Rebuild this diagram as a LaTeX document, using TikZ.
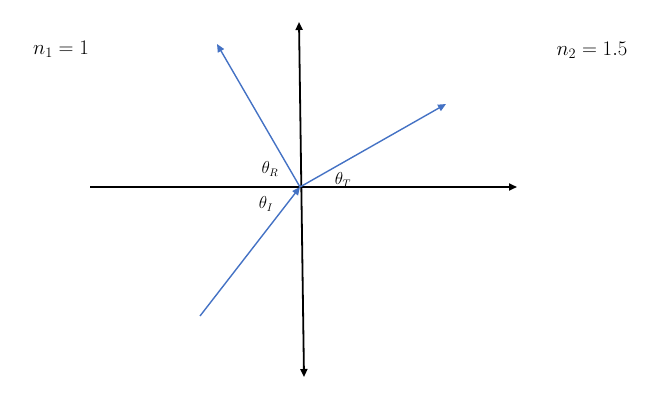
\documentclass[tikz,border=0pt]{standalone}
\usepackage{tikz}
\usetikzlibrary{arrows.meta}
\definecolor{rayblue}{RGB}{68,114,196}

\begin{document}
\begin{tikzpicture}[x=1pt,y=-1pt,>={Triangle[length=8pt,width=7pt]},
  axis/.style={line width=1.8pt,black},
  ray/.style={line width=1.4pt,rayblue},
  angle/.style={font=\fontsize{16}{19}\selectfont},
  medium/.style={font=\fontsize{21}{25}\selectfont}]

\useasboundingbox (0,0) rectangle (647,414);

\coordinate (o) at (300,187);
\coordinate (xl) at (90,187);
\coordinate (xr) at (517,187);
\coordinate (yt) at (299,22);
\coordinate (yb) at (304,377);
\coordinate (inc) at (200,316);
\coordinate (refl) at (217,44);
\coordinate (trans) at (446,104);

%axes
\draw[axis,->] (xl) -- (xr);
\draw[axis,<->] (yb) -- (yt);

%rays
\draw[ray,->] (inc) -- (o);
\draw[ray,->] (o) -- (refl);
\draw[ray,->] (o) -- (trans);

\node[angle] (thR) at (270,169) {$\theta_R$};
\node[angle] (thI) at (266,204) {$\theta_I$};
\node[angle] (thT) at (343,180) {$\theta_T$};

\node[medium] (n1) at (61,49) {$n_1 = 1$};
\node[medium] (n2) at (592,50) {$n_2 = 1.5$};
\end{tikzpicture}
\end{document}
